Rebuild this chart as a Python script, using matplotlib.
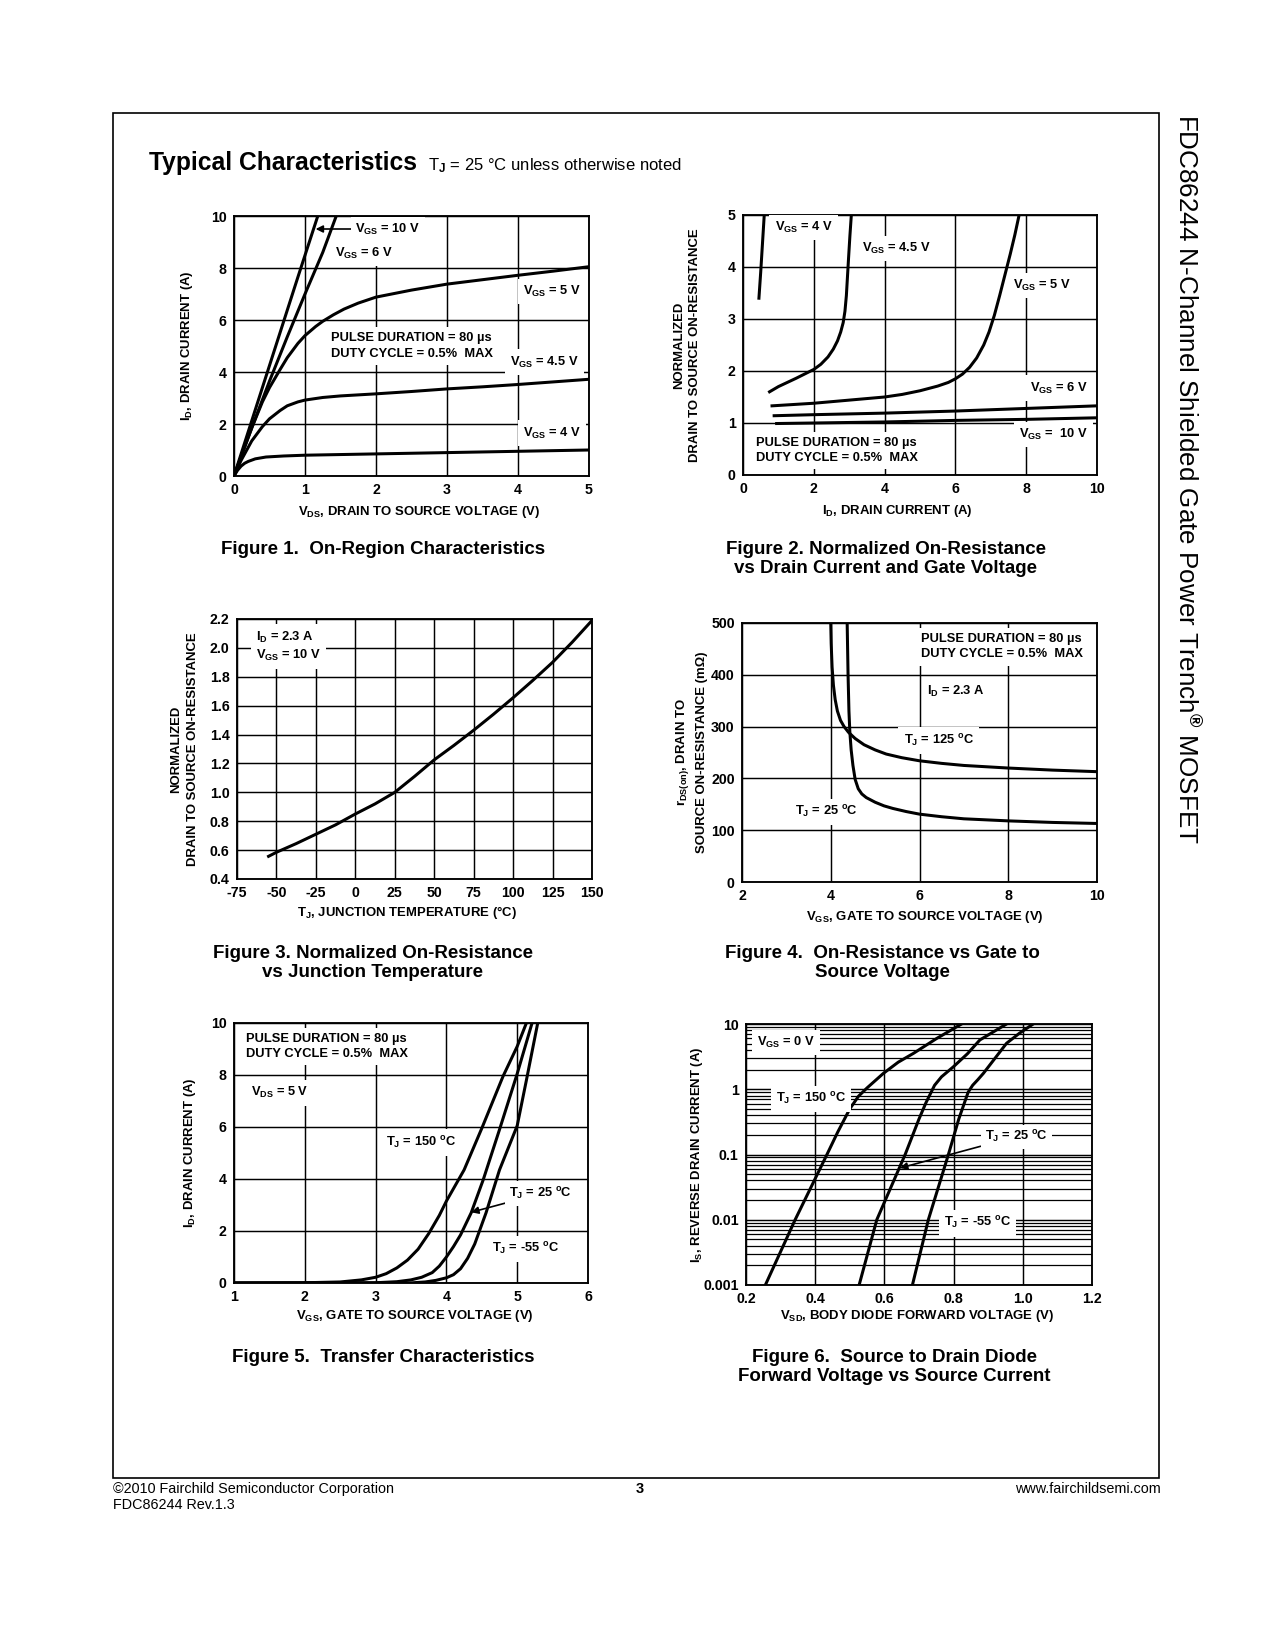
import matplotlib
matplotlib.use("Agg")
import matplotlib.pyplot as plt
from matplotlib.patches import Rectangle

plt.rcParams['font.family'] = ['Liberation Sans', 'DejaVu Sans']
plt.rcParams['font.weight'] = 'bold'
plt.rcParams['mathtext.fontset'] = 'custom'
plt.rcParams['mathtext.rm'] = 'Liberation Sans:bold'
plt.rcParams['mathtext.it'] = 'Liberation Sans:bold'
plt.rcParams['mathtext.bf'] = 'Liberation Sans:bold'
plt.rcParams['mathtext.sf'] = 'Liberation Sans'
plt.rcParams['axes.unicode_minus'] = False

W, H = 1275, 1650

# ---- Figure 1: on-region characteristics (VDS, ID) ----
f1_vds_10v = [0, 0.3, 0.6, 0.9, 1.18]
f1_id_10v = [0, 2.55, 5.1, 7.65, 10]
f1_vds_6v = [0, 0.25, 0.5, 0.75, 1.0, 1.25, 1.44]
f1_id_6v = [0, 1.85, 3.65, 5.35, 7.0, 8.6, 10]
f1_vds_5v = [0, 0.1, 0.25, 0.4, 0.5, 0.65, 0.75, 0.9, 1.0, 1.15, 1.25, 1.4, 1.55, 1.75, 2.0,
             2.5, 3.0, 3.5, 4.0, 4.5, 5.0]
f1_id_5v = [0, 0.75, 1.85, 2.85, 3.4, 4.1, 4.55, 5.1, 5.4, 5.75, 5.95, 6.2, 6.42, 6.65, 6.88,
            7.15, 7.38, 7.55, 7.72, 7.88, 8.05]
f1_vds_45v = [0, 0.1, 0.25, 0.4, 0.5, 0.65, 0.75, 0.9, 1.0, 1.25, 1.5, 2.0, 2.5, 3.0, 3.5,
              4.0, 4.5, 5.0]
f1_id_45v = [0, 0.6, 1.35, 1.9, 2.2, 2.52, 2.7, 2.85, 2.92, 3.02, 3.08, 3.16, 3.25, 3.35, 3.43,
             3.52, 3.62, 3.72]
f1_vds_4v = [0, 0.05, 0.1, 0.15, 0.2, 0.3, 0.45, 0.7, 1.0, 2.0, 3.0, 4.0, 5.0]
f1_id_4v = [0, 0.22, 0.38, 0.49, 0.56, 0.66, 0.73, 0.77, 0.8, 0.85, 0.9, 0.95, 1.0]

# ---- Figure 2: normalized rDS(on) vs ID ----
f2_id_4v = [0.45, 0.5, 0.55, 0.6]
f2_r_4v = [3.4, 3.9, 4.45, 5.0]
f2_id_45v = [0.75, 1.0, 1.5, 2.0, 2.2, 2.4, 2.55, 2.67, 2.76, 2.83, 2.88, 2.92, 2.95, 2.98,
             3.02, 3.06]
f2_r_45v = [1.6, 1.7, 1.86, 2.03, 2.13, 2.27, 2.42, 2.58, 2.75, 2.93, 3.15, 3.45, 3.8, 4.15,
            4.6, 5.0]
f2_id_5v = [0.82, 2, 3, 4, 4.5, 5, 5.5, 5.8, 6.0, 6.2, 6.4, 6.6, 6.8, 6.95, 7.1, 7.25, 7.4,
            7.55, 7.68, 7.8]
f2_r_5v = [1.33, 1.38, 1.44, 1.5, 1.55, 1.62, 1.71, 1.78, 1.85, 1.94, 2.07, 2.25, 2.5, 2.75,
           3.07, 3.45, 3.85, 4.25, 4.62, 5.0]
f2_id_6v = [0.88, 2, 4, 6, 8, 10]
f2_r_6v = [1.14, 1.16, 1.19, 1.23, 1.28, 1.33]
f2_id_10v = [0.95, 2, 4, 6, 8, 10]
f2_r_10v = [0.99, 1.0, 1.02, 1.05, 1.07, 1.10]

# ---- Figure 3: normalized rDS(on) vs TJ ----
f3_tj = [-55, -50, -37.5, -25, -12.5, 0, 12.5, 25, 37.5, 50, 62.5, 75, 87.5, 100, 112.5, 125,
         137.5, 150]
f3_r = [0.557, 0.585, 0.645, 0.71, 0.775, 0.85, 0.92, 1.0, 1.11, 1.225, 1.325, 1.43, 1.54,
        1.655, 1.775, 1.9, 2.04, 2.19]

# ---- Figure 4: rDS(on) vs VGS ----
f4_vgs_25 = [4.37, 4.39, 4.41, 4.43, 4.46, 4.5, 4.55, 4.62, 4.7, 4.8, 5.0, 5.2, 5.4, 5.7, 6.0,
             6.5, 7.0, 8.0, 9.0, 10.0]
f4_r_25 = [500, 400, 330, 290, 255, 225, 198, 180, 170, 163, 154, 147, 142, 136, 131,
           126, 122, 118, 115, 113]
f4_vgs_125 = [4.0, 4.01, 4.03, 4.06, 4.1, 4.15, 4.22, 4.3, 4.4, 4.55, 4.75, 5.0, 5.25, 5.6,
              6.0, 6.5, 7.0, 8.0, 9.0, 10.0]
f4_r_125 = [500, 460, 415, 380, 352, 330, 312, 300, 289, 277, 265, 255, 247, 240,
            234, 229, 225, 220, 216, 213]

# ---- Figure 5: transfer characteristics ----
f5_vgs_150 = [1.0, 2.0, 2.5, 2.8, 3.0, 3.15, 3.3, 3.45, 3.6, 3.75, 3.9, 4.0, 4.25, 4.5, 4.8,
              5.0, 5.13]
f5_id_150 = [0, 0.01, 0.04, 0.12, 0.22, 0.36, 0.58, 0.88, 1.3, 1.9, 2.6, 3.15, 4.35, 5.95,
             7.95, 9.1, 10.0]
f5_vgs_25 = [1.0, 3.0, 3.3, 3.5, 3.65, 3.8, 3.9, 4.0, 4.1, 4.2, 4.35, 4.52, 4.75, 5.0, 5.21]
f5_id_25 = [0, 0.01, 0.05, 0.12, 0.22, 0.4, 0.65, 1.0, 1.4, 1.85, 2.7, 3.97, 5.9, 8.05, 10]
f5_vgs_m55 = [1.0, 3.5, 3.7, 3.85, 4.0, 4.1, 4.2, 4.3, 4.4, 4.56, 4.75, 5.0, 5.13, 5.29]
f5_id_m55 = [0, 0.005, 0.04, 0.1, 0.2, 0.32, 0.55, 0.95, 1.5, 2.7, 4.35, 6.05, 7.8, 10]

# ---- Figure 6: body diode forward voltage ----
f6_vsd_150 = [0.256, 0.342, 0.434, 0.465, 0.5, 0.525, 0.55, 0.597, 0.64, 0.684, 0.751, 0.823]
f6_is_150 = [0.001, 0.01, 0.1, 0.22, 0.5, 0.78, 1.05, 1.75, 2.6, 3.55, 6.0, 10]
f6_vsd_25 = [0.527, 0.578, 0.66, 0.7, 0.72, 0.745, 0.765, 0.799, 0.84, 0.876, 0.953]
f6_is_25 = [0.001, 0.01, 0.1, 0.35, 0.62, 1.15, 1.55, 2.2, 3.5, 5.7, 10]
f6_vsd_m55 = [0.681, 0.727, 0.785, 0.815, 0.842, 0.855, 0.87, 0.886, 0.92, 0.953, 0.99, 1.03]
f6_is_m55 = [0.001, 0.01, 0.1, 0.35, 0.9, 1.15, 1.4, 1.75, 3.0, 5.06, 7.2, 10]

LW = 1.45
GRID_LW = 0.7
TICK_FS = 6.8
LABEL_FS = 6.3
NOTE_FS = 6.2
CAP_FS = 9


def place(fig, left, top, right, bottom):
    return fig.add_axes([left / W, 1 - bottom / H, (right - left) / W, (bottom - top) / H])


def style(ax, xlim, ylim, xticks, yticks, xticklabels=None, yticklabels=None):
    ax.set_xlim(xlim)
    ax.set_ylim(ylim)
    ax.set_xticks(xticks)
    ax.set_yticks(yticks)
    if xticklabels is not None:
        ax.set_xticklabels(xticklabels)
    if yticklabels is not None:
        ax.set_yticklabels(yticklabels)
    ax.grid(True, color='black', linewidth=GRID_LW)
    ax.set_axisbelow(True)
    ax.tick_params(length=0, labelsize=TICK_FS, pad=3.5)
    for sp in ax.spines.values():
        sp.set_linewidth(0.9)


def labels(ax, xlabel, ylabel, xpos, ypos):
    ax.text(xpos[0], xpos[1], xlabel, transform=ax.transAxes, ha='center', va='center',
            fontsize=LABEL_FS)
    ax.text(ypos[0], ypos[1], ylabel, transform=ax.transAxes, ha='center', va='center',
            rotation=90, fontsize=LABEL_FS, multialignment='center', linespacing=1.5)


def note(ax, x, y, s, ha='left'):
    ax.text(x, y, s, ha=ha, va='center', fontsize=NOTE_FS, zorder=5, linespacing=1.35,
            bbox=dict(facecolor='white', edgecolor='none', pad=2.5))


def arrow_note(ax, xy, xytext, s):
    ax.annotate(s, xy=xy, xytext=xytext, va='center', fontsize=NOTE_FS, zorder=5,
                bbox=dict(facecolor='white', edgecolor='none', pad=2),
                arrowprops=dict(arrowstyle='-|>', color='black', lw=0.8, mutation_scale=7,
                                shrinkA=0, shrinkB=0))


fig = plt.figure(figsize=(W / 150, H / 150), dpi=150)

# page frame and header/footer
fig.add_artist(Rectangle((113 / W, 1 - 1478 / H), (1159 - 113) / W, (1478 - 113) / H,
                         transform=fig.transFigure, fill=False, lw=0.8, color='black'))
fig.text(149 / W, 1 - 170 / H, "Typical Characteristics", fontsize=11.8, va='baseline')
fig.text(428 / W, 1 - 170 / H, r"T$_\mathsf{J}$ = 25 °C unless otherwise noted",
         fontsize=8.0, fontweight='normal', va='baseline')
fig.text(1186 / W, 1 - 114 / H,
         r"FDC86244 N-Channel Shielded Gate Power Trench$^\mathsf{®}$ MOSFET",
         rotation=-90, ha='center', va='top', fontsize=12.5, fontweight='normal')
fig.text(113 / W, 1 - 1489 / H, "©2010 Fairchild Semiconductor Corporation",
         fontsize=6.9, fontweight='normal', va='center')
fig.text(113 / W, 1 - 1505 / H, "FDC86244 Rev.1.3", fontsize=6.9, fontweight='normal',
         va='center')
fig.text(640 / W, 1 - 1489 / H, "3", fontsize=7, va='center', ha='center')
fig.text(1161 / W, 1 - 1489 / H, "www.fairchildsemi.com", fontsize=6.9, fontweight='normal',
         va='center', ha='right')

# Figure 1
ax1 = place(fig, 234, 216, 589, 476)
ax1.plot(f1_vds_10v, f1_id_10v, 'k', lw=LW)
ax1.plot(f1_vds_6v, f1_id_6v, 'k', lw=LW)
ax1.plot(f1_vds_5v, f1_id_5v, 'k', lw=LW)
ax1.plot(f1_vds_45v, f1_id_45v, 'k', lw=LW)
ax1.plot(f1_vds_4v, f1_id_4v, 'k', lw=LW)
style(ax1, (0, 5), (0, 10), range(0, 6), range(0, 11, 2))
labels(ax1, r"V$_{DS}$, DRAIN TO SOURCE VOLTAGE (V)", r"I$_D$, DRAIN CURRENT (A)",
       (0.52, -0.137), (-0.132, 0.5))
arrow_note(ax1, (1.15, 9.5), (1.71, 9.5), r"V$_{GS}$ = 10 V")
note(ax1, 1.42, 8.56, r"V$_{GS}$ = 6 V")
note(ax1, 4.89, 7.1, r"V$_{GS}$ = 5 V", ha='right')
note(ax1, 1.36, 5.0, "PULSE DURATION = 80 µs\nDUTY CYCLE = 0.5%  MAX")
note(ax1, 4.86, 4.38, r"V$_{GS}$ = 4.5 V", ha='right')
note(ax1, 4.89, 1.65, r"V$_{GS}$ = 4 V", ha='right')
fig.text(383 / W, 1 - 550 / H, "Figure 1.  On-Region Characteristics", fontsize=CAP_FS,
         ha='center', va='center')

# Figure 2
ax2 = place(fig, 743, 215, 1097, 475)
ax2.plot(f2_id_4v, f2_r_4v, 'k', lw=LW)
ax2.plot(f2_id_45v, f2_r_45v, 'k', lw=LW)
ax2.plot(f2_id_5v, f2_r_5v, 'k', lw=LW)
ax2.plot(f2_id_6v, f2_r_6v, 'k', lw=LW)
ax2.plot(f2_id_10v, f2_r_10v, 'k', lw=LW)
style(ax2, (0, 10), (0, 5), range(0, 11, 2), range(0, 6))
labels(ax2, r"I$_D$, DRAIN CURRENT (A)", "NORMALIZED\nDRAIN TO SOURCE ON-RESISTANCE",
       (0.435, -0.137), (-0.158, 0.5))
note(ax2, 0.89, 4.76, r"V$_{GS}$ = 4 V")
note(ax2, 3.35, 4.36, r"V$_{GS}$ = 4.5 V")
note(ax2, 7.64, 3.64, r"V$_{GS}$ = 5 V")
note(ax2, 9.74, 1.67, r"V$_{GS}$ = 6 V", ha='right')
note(ax2, 9.74, 0.78, r"V$_{GS}$ =  10 V", ha='right')
note(ax2, 0.36, 0.47, "PULSE DURATION = 80 µs\nDUTY CYCLE = 0.5%  MAX")
fig.text(886 / W, 1 - 559 / H, "Figure 2. Normalized On-Resistance\nvs Drain Current and Gate Voltage",
         fontsize=CAP_FS, ha='center', va='center', linespacing=1.2)

# Figure 3
ax3 = place(fig, 237, 619, 592, 879)
ax3.plot(f3_tj, f3_r, 'k', lw=LW)
style(ax3, (-75, 150), (0.4, 2.2), range(-75, 151, 25), [0.4 + 0.2 * i for i in range(10)],
      yticklabels=["0.4", "0.6", "0.8", "1.0", "1.2", "1.4", "1.6", "1.8", "2.0", "2.2"])
labels(ax3, r"T$_J$, JUNCTION TEMPERATURE (°C)", "NORMALIZED\nDRAIN TO SOURCE ON-RESISTANCE",
       (0.48, -0.128), (-0.148, 0.5))
note(ax3, -63, 2.01, "I$_D$ = 2.3 A\nV$_{GS}$ = 10 V")
fig.text(373 / W, 1 - 963 / H, "Figure 3. Normalized On-Resistance\nvs Junction Temperature",
         fontsize=CAP_FS, ha='center', va='center', linespacing=1.2)

# Figure 4
ax4 = place(fig, 742, 623, 1097, 882)
ax4.plot(f4_vgs_25, f4_r_25, 'k', lw=LW)
ax4.plot(f4_vgs_125, f4_r_125, 'k', lw=LW)
style(ax4, (2, 10), (0, 500), range(2, 11, 2), range(0, 501, 100))
labels(ax4, r"V$_{GS}$, GATE TO SOURCE VOLTAGE (V)",
       "r$_{DS(on)}$, DRAIN TO\nSOURCE ON-RESISTANCE (mΩ)", (0.515, -0.136), (-0.143, 0.5))
note(ax4, 6.03, 454, "PULSE DURATION = 80 µs\nDUTY CYCLE = 0.5%  MAX")
note(ax4, 6.18, 367, r"I$_D$ = 2.3 A")
note(ax4, 5.64, 273, r"T$_J$ = 125 $^o$C")
note(ax4, 3.2, 135, r"T$_J$ = 25 $^o$C")
fig.text(882 / W, 1 - 963 / H, "Figure 4.  On-Resistance vs Gate to\nSource Voltage",
         fontsize=CAP_FS, ha='center', va='center', linespacing=1.2)

# Figure 5
ax5 = place(fig, 234, 1023, 588, 1283)
ax5.plot(f5_vgs_150, f5_id_150, 'k', lw=LW)
ax5.plot(f5_vgs_25, f5_id_25, 'k', lw=LW)
ax5.plot(f5_vgs_m55, f5_id_m55, 'k', lw=LW)
style(ax5, (1, 6), (0, 10), range(1, 7), range(0, 11, 2))
labels(ax5, r"V$_{GS}$, GATE TO SOURCE VOLTAGE (V)", r"I$_D$, DRAIN CURRENT (A)",
       (0.51, -0.128), (-0.124, 0.5))
note(ax5, 1.17, 9.1, "PULSE DURATION = 80 µs\nDUTY CYCLE = 0.5%  MAX")
note(ax5, 1.24, 7.31, r"V$_{DS}$ = 5 V")
note(ax5, 3.15, 5.4, r"T$_J$ = 150 $^o$C")
arrow_note(ax5, (4.35, 2.72), (4.89, 3.44), r"T$_J$ = 25 $^o$C")
note(ax5, 4.65, 1.31, r"T$_J$ = -55 $^o$C")
fig.text(383 / W, 1 - 1358 / H, "Figure 5.  Transfer Characteristics", fontsize=CAP_FS,
         ha='center', va='center')

# Figure 6
ax6 = place(fig, 746, 1024, 1092, 1285)
ax6.plot(f6_vsd_150, f6_is_150, 'k', lw=LW)
ax6.plot(f6_vsd_25, f6_is_25, 'k', lw=LW)
ax6.plot(f6_vsd_m55, f6_is_m55, 'k', lw=LW)
ax6.set_yscale('log')
style(ax6, (0.2, 1.2), (0.001, 10), [0.2, 0.4, 0.6, 0.8, 1.0, 1.2],
      [0.001, 0.01, 0.1, 1, 10],
      xticklabels=["0.2", "0.4", "0.6", "0.8", "1.0", "1.2"],
      yticklabels=["0.001", "0.01", "0.1", "1", "10"])
ax6.set_yticks([m * 10.0 ** k for k in range(-3, 1) for m in range(2, 10)], minor=True)
ax6.yaxis.set_minor_formatter(plt.NullFormatter())
ax6.tick_params(which='minor', length=0)
ax6.grid(True, which='minor', axis='y', color='black', linewidth=0.6)
labels(ax6, r"V$_{SD}$, BODY DIODE FORWARD VOLTAGE (V)", r"I$_S$, REVERSE DRAIN CURRENT (A)",
       (0.494, -0.12), (-0.142, 0.5))
note(ax6, 0.232, 5.2, r"V$_{GS}$ = 0 V")
note(ax6, 0.2875, 0.71, r"T$_J$ = 150 $^o$C")
arrow_note(ax6, (0.645, 0.062), (0.89, 0.1875), r"T$_J$ = 25 $^o$C")
note(ax6, 0.772, 0.0088, r"T$_J$ = -55 $^o$C")
fig.text(894 / W, 1 - 1367 / H, "Figure 6.  Source to Drain Diode\nForward Voltage vs Source Current",
         fontsize=CAP_FS, ha='center', va='center', linespacing=1.2)

fig.savefig("out.png", dpi=150, facecolor='white')
